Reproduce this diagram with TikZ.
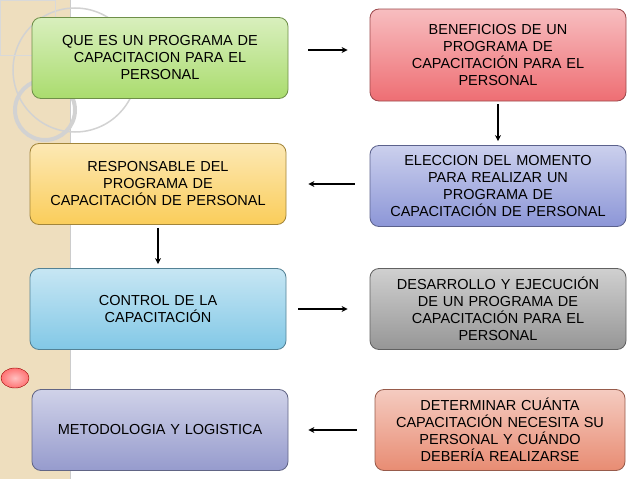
\documentclass[tikz,border=0pt]{standalone}
\usepackage{fontspec}
\setmainfont{Liberation Sans}
\usetikzlibrary{arrows.meta}
\definecolor{cA}{RGB}{170,220,110}
\definecolor{cB}{RGB}{238,110,115}
\definecolor{cC}{RGB}{250,205,90}
\definecolor{cD}{RGB}{140,150,215}
\definecolor{cE}{RGB}{130,200,230}
\definecolor{cF}{RGB}{150,150,150}
\definecolor{cG}{RGB}{150,155,205}
\definecolor{cH}{RGB}{232,140,115}
\definecolor{tan}{RGB}{238,222,190}
\begin{document}
\begin{tikzpicture}[x=1pt,y=-1pt,
  box/.style={draw=#1!65!black, line width=0.8pt, rounded corners=9pt, minimum width=256pt, minimum height=81pt, align=center, font=\fontsize{14.5}{17}\selectfont, text width=254pt, inner sep=1pt, top color=#1!45!white, bottom color=#1},
  arr/.style={-{Stealth[length=6pt,width=6pt]}, line width=1.6pt}]
\useasboundingbox (0,0) rectangle (638,479);
\fill[white] (0,0) rectangle (638,479);
\fill[tan] (0,0) rectangle (70,479);
\draw[gray!40, line width=1pt] (70,0) -- (70,479);
\draw[gray!35, line width=1.5pt] (75,70) circle (62);
\draw[gray!35, line width=4pt] (45,110) circle (30);
\draw[gray!30] (0,0) rectangle (55,55);
\shade[inner color=red!25, outer color=red!55, draw=red!60!black] (15,378) ellipse (14 and 10);
\node[box=cA] (a) at (160,58) {QUE ES UN PROGRAMA DE\\CAPACITACION PARA EL\\PERSONAL};
\node[box=cB, minimum height=92pt] (b) at (498,55) {BENEFICIOS DE UN\\PROGRAMA DE\\CAPACITACIÓN PARA EL\\PERSONAL};
\node[box=cC] (c) at (158,184) {RESPONSABLE DEL\\PROGRAMA DE\\CAPACITACIÓN DE PERSONAL};
\node[box=cD] (d) at (498,186) {ELECCION DEL MOMENTO\\PARA REALIZAR UN\\PROGRAMA DE\\CAPACITACIÓN DE PERSONAL};
\node[box=cE] (e) at (158,309) {CONTROL DE LA\\CAPACITACIÓN};
\node[box=cF] (f) at (498,309) {DESARROLLO Y EJECUCIÓN\\DE UN PROGRAMA DE\\CAPACITACIÓN PARA EL\\PERSONAL};
\node[box=cG] (g) at (160,430) {METODOLOGIA Y LOGISTICA};
\node[box=cH, minimum width=250pt, text width=248pt] (h) at (500,430) {DETERMINAR CUÁNTA\\CAPACITACIÓN NECESITA SU\\PERSONAL Y CUÁNDO\\DEBERÍA REALIZARSE};
\draw[arr] ([xshift=20pt]a.east |- 0,50) -- ([xshift=-22pt]b.west |- 0,50);
\draw[arr] ([yshift=-3pt]b.south) -- ([yshift=4pt]d.north);
\draw[arr] ([xshift=-15pt]d.west |- 0,184) -- ([xshift=22pt]c.east |- 0,184);
\draw[arr] ([yshift=-3pt]c.south) -- ([yshift=4pt]e.north);
\draw[arr] ([xshift=12pt]e.east |- 0,309) -- ([xshift=-22pt]f.west |- 0,309);
\draw[arr] ([xshift=-18pt]h.west |- 0,430) -- ([xshift=20pt]g.east |- 0,430);
\end{tikzpicture}
\end{document}
